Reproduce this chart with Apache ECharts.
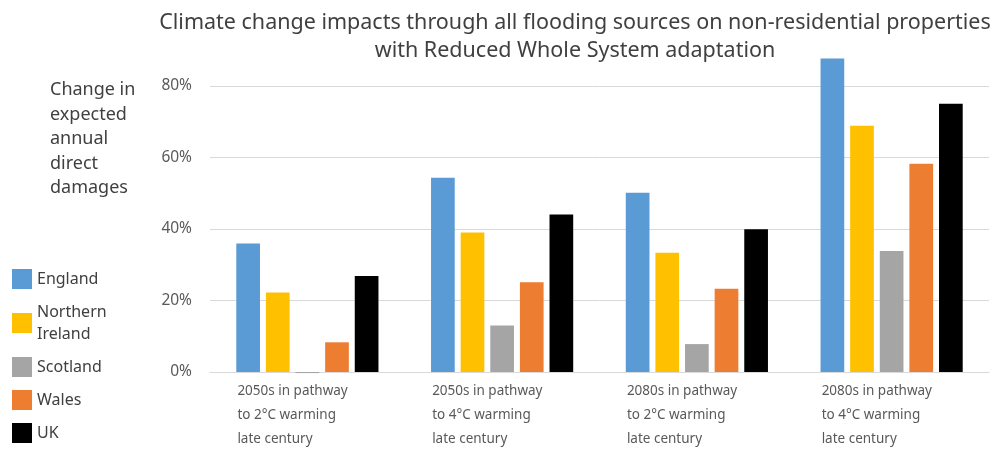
<!DOCTYPE html>
<html>
<head>
<meta charset="utf-8">
<script src="https://cdn.jsdelivr.net/npm/echarts@6/dist/echarts.min.js"></script>
<style>
html,body{margin:0;padding:0;background:#fff;}
#chart{width:1000px;height:453px;}
</style>
</head>
<body>
<div id="chart"></div>
<script>
const categories = [
  "2050s in pathway\nto 2°C warming\nlate century",
  "2050s in pathway\nto 4°C warming\nlate century",
  "2080s in pathway\nto 2°C warming\nlate century",
  "2080s in pathway\nto 4°C warming\nlate century"
];
const seriesNames = ["England", "Northern Ireland", "Scotland", "Wales", "UK"];
const england = [0.359, 0.543, 0.501, 0.876];
const northernIreland = [0.222, 0.390, 0.333, 0.688];
const scotland = [-0.003, 0.130, 0.078, 0.338];
const wales = [0.083, 0.251, 0.233, 0.582];
const uk = [0.268, 0.440, 0.399, 0.750];
const colors = ["#5B9BD5", "#FFC000", "#A5A5A5", "#ED7D31", "#000000"];
const titleLines = "Climate change impacts through all flooding sources on non-residential properties\nwith Reduced Whole System adaptation";
const yTitle = "Change in\nexpected\nannual\ndirect\ndamages";

const FONT = "Noto Sans";
const values = [england, northernIreland, scotland, wales, uk];

const chart = echarts.init(document.getElementById('chart'), null, {renderer: 'canvas'});
chart.setOption({
  animation: false,
  backgroundColor: '#fff',
  color: colors,
  title: [
    {
      text: titleLines,
      left: 570, top: 4, textAlign: 'center',
      textStyle: {fontFamily: FONT, fontSize: 21.5, fontWeight: 'normal', color: '#404040', lineHeight: 28}
    },
    {
      text: yTitle,
      left: 45, top: 73,
      textStyle: {fontFamily: FONT, fontSize: 18, fontWeight: 'normal', color: '#404040', lineHeight: 24.5}
    }
  ],
  legend: {
    orient: 'vertical',
    left: 7, top: 263,
    itemWidth: 20, itemHeight: 20, itemGap: 11,
    icon: 'rect',
    formatter: n => n === 'Northern Ireland' ? 'Northern\nIreland' : n,
    textStyle: {fontFamily: FONT, fontSize: 16, color: '#404040', lineHeight: 22},
    data: seriesNames
  },
  grid: {left: 210, right: 11, top: 50, bottom: 81, containLabel: false},
  xAxis: {
    type: 'category',
    data: categories,
    axisLine: {show: true, lineStyle: {color: '#D9D9D9', width: 1}},
    axisTick: {show: false},
    axisLabel: {
      interval: 0, margin: 7, align: 'center',
      formatter: v => v.split('\n').map(l => '{a|' + l + '}').join('\n'),
      rich: {a: {width: 140, align: 'left', fontFamily: FONT, fontSize: 13.5, lineHeight: 24, color: '#595959'}}
    }
  },
  yAxis: {
    type: 'value',
    min: 0, max: 0.9, interval: 0.2,
    axisLine: {show: false},
    axisTick: {show: false},
    splitLine: {show: true, showMaxLine: false, lineStyle: {color: '#D9D9D9', width: 1}},
    axisLabel: {
      showMaxLabel: false, margin: 18,
      formatter: v => Math.round(v * 100) + '%',
      fontFamily: FONT, fontSize: 15.5, color: '#595959'
    }
  },
  series: seriesNames.map((n, i) => ({
    name: n,
    type: 'bar',
    data: values[i],
    clip: false,
    barGap: '25%',
    barCategoryGap: '27%',
    itemStyle: {color: colors[i]}
  }))
});
</script>
</body>
</html>
